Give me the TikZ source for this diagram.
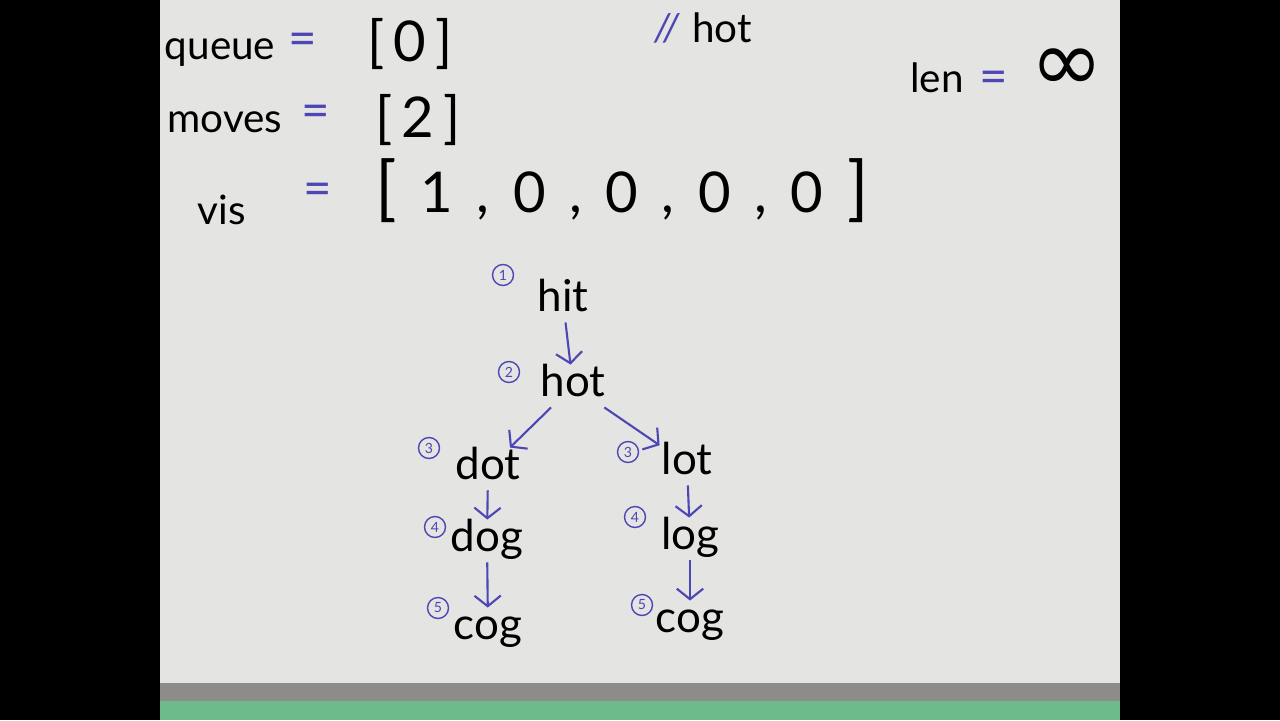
\documentclass[tikz,border=0pt]{standalone}
\usepackage{fontspec}
\setmainfont{Lato}
\newfontfamily\symfont{DejaVu Sans}
\usetikzlibrary{arrows.meta}

\definecolor{board}{HTML}{E4E4E2}
\definecolor{ink}{HTML}{4C47B5}
\definecolor{tray}{HTML}{8E8C8A}
\definecolor{felt}{HTML}{6DBB8A}

\newcommand\gp{\hspace{0.42em}}
\newcommand\lbr{{\fontsize{40}{40}\selectfont[}}
\newcommand\rbr{{\fontsize{40}{40}\selectfont]}}

\tikzset{
  word/.style={font=\fontsize{25}{27}\selectfont, inner sep=1pt, text height=17pt, text depth=5pt},
  note/.style={font=\fontsize{23}{25}\selectfont, inner sep=1pt},
  list/.style={font=\fontsize{32}{34}\selectfont, inner sep=1pt},
  eq/.style={font=\fontsize{28}{30}\selectfont, text=ink, inner sep=1pt},
  badge/.style={circle, draw=ink, text=ink, line width=0.8pt, inner sep=0pt, minimum size=0.42cm, font=\fontsize{8}{9}\selectfont},
  link/.style={-{Straight Barb[length=6pt,width=15pt]}, ink, line width=1.2pt}
}

\begin{document}
\begin{tikzpicture}[x=0.02cm, y=-0.02cm]

  % frame
  \useasboundingbox (0,0) rectangle (1280,720);
  \fill [black] (0,0) rectangle (1280,720);
  \fill [board] (160,0) rectangle (1120,683);
  \fill [tray] (160,683) rectangle (1120,701);
  \fill [felt] (160,701) rectangle (1120,720);

  % variables
  \node [note] (queue) at (220,53) {queue};
  \node [eq] (eqq) at (303,44) {=};
  \node [list] (qval) at (410,44) {[\,0\,]};
  \node [note] (moves) at (225,122) {moves};
  \node [eq] (eqm) at (316,116) {=};
  \node [list] (mval) at (418,120) {[\,2\,]};
  \node [note] (vis) at (222,210) {vis};
  \node [eq] (eqv) at (318,194) {=};
  \node [list] (vval) at (622,191) {\lbr\gp 1\gp,\gp 0\gp,\gp 0\gp,\gp 0\gp,\gp 0\gp\rbr};

  \node [eq, font=\fontsize{22}{24}\itshape] (slash) at (667,28) {//};
  \node [note] (cur) at (722,28) {hot};
  \node [note] (len) at (937,78) {len};
  \node [eq] (eql) at (994,82) {=};
  \node [font=\symfont\fontsize{50}{52}\selectfont, inner sep=1pt] (inf) at (1067,70) {∞};

  % tree
  \node [word] (hit) at (563,301) {hit};
  \node [word] (hot) at (573,386) {hot};
  \node [word] (dot) at (488,469) {dot};
  \node [word] (lot) at (687,464) {lot};
  \node [word] (dog) at (487,541) {dog};
  \node [word] (log) at (690,539) {log};
  \node [word] (cogA) at (488,629) {cog};
  \node [word] (cogB) at (690,622) {cog};

  % arrows
  \draw [link] (hit) -- (hot);
  \draw [link] (hot) -- (dot);
  \draw [link] (hot) -- (lot);
  \draw [link] (dot) -- (dog);
  \draw [link] (lot) -- (log);
  \draw [link] (dog) -- (cogA);
  \draw [link] (log) -- (cogB);

  % labels
  \node [badge] (b1) at (503,275) {1};
  \node [badge] (b2) at (509,372) {2};
  \node [badge] (b3a) at (429,448) {3};
  \node [badge] (b3b) at (628,452) {3};
  \node [badge] (b4a) at (435,527) {4};
  \node [badge] (b4b) at (635,517) {4};
  \node [badge] (b5a) at (438,608) {5};
  \node [badge] (b5b) at (642,605) {5};

\end{tikzpicture}
\end{document}
